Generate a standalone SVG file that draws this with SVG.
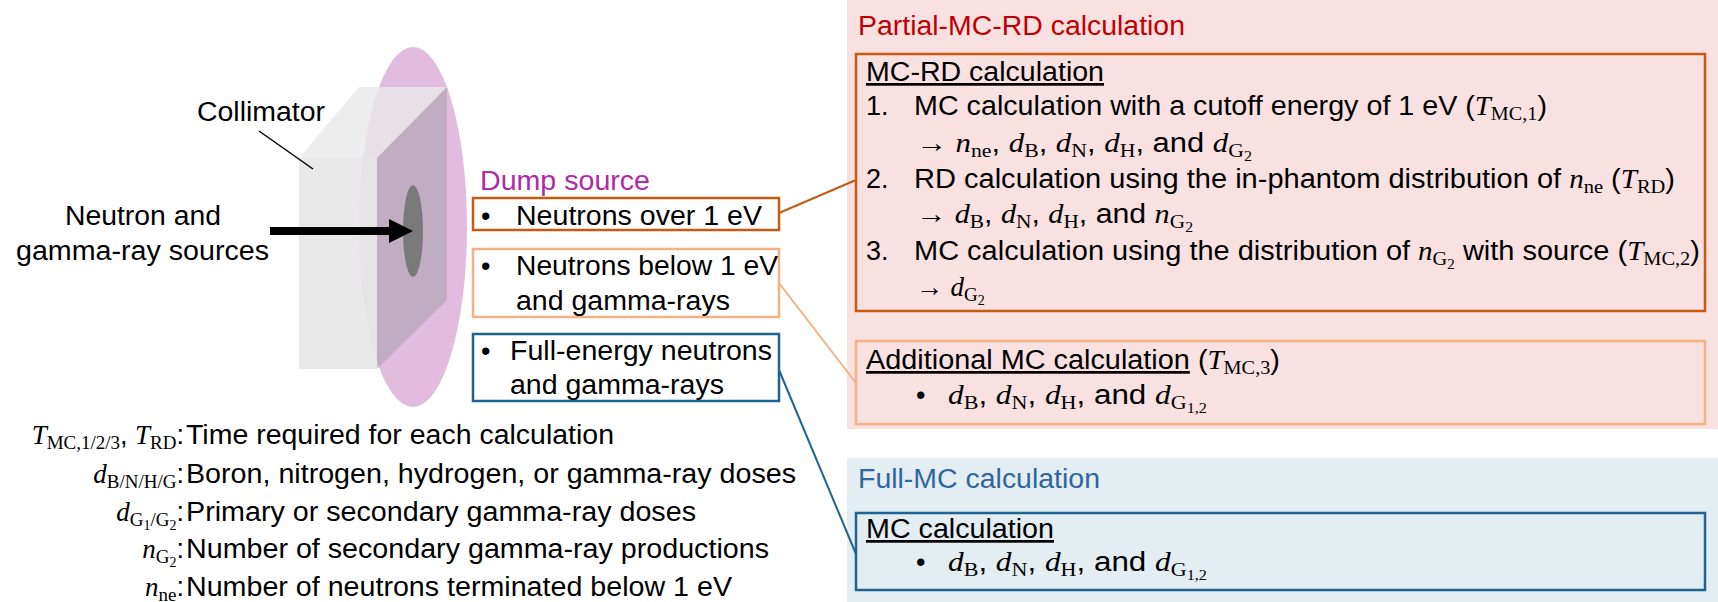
<svg xmlns="http://www.w3.org/2000/svg" width="1718" height="602" viewBox="0 0 1718 602">
<style>
text{font-family:"Liberation Sans",Arial,sans-serif;font-size:27px;fill:#000}
.m{font-family:"Liberation Serif","DejaVu Serif",serif;font-style:italic}
.s{font-family:"Liberation Serif","DejaVu Serif",serif;font-style:normal;font-size:19px}
.ss{font-size:14px}
</style>
<rect x="0" y="0" width="1718" height="602" fill="#fff"/>
<g id="partial-panel">
<rect x="847" y="0" width="871" height="429" fill="#f9e1e2"/>
<text x="858" y="35" textLength="327" lengthAdjust="spacingAndGlyphs" style="fill:#c00000">Partial-MC-RD calculation</text>
</g>
<g id="full-panel">
<rect x="847" y="458" width="871" height="144" fill="#e4edf1"/>
<text x="858" y="488" textLength="242" lengthAdjust="spacingAndGlyphs" style="fill:#2e67a0">Full-MC calculation</text>
</g>
<g id="collimator">
<ellipse cx="413" cy="227" rx="54" ry="180" fill="#e1bcdf"/>
<polygon points="299,158 359,87 447,87 377,158" fill="#e8e8e8" fill-opacity="0.8"/>
<rect x="299" y="158" width="78" height="211" fill="#e6e6e6" fill-opacity="0.92"/>
<polygon points="377,158 447,87 447,300 377,369" fill="#a8a0a8" fill-opacity="0.55"/>
<ellipse cx="413" cy="231" rx="10" ry="46" fill="#7a7a7a"/>
<line x1="270" y1="231" x2="392" y2="231" stroke="#000" stroke-width="8"/>
<polygon points="389,219 413,231 389,243" fill="#000"/>
<text x="197" y="121" textLength="128" lengthAdjust="spacingAndGlyphs">Collimator</text>
<line x1="259" y1="131" x2="313" y2="169" stroke="#000" stroke-width="1.5"/>
<text x="65" y="225" textLength="156" lengthAdjust="spacingAndGlyphs">Neutron and</text>
<text x="16" y="260" textLength="253" lengthAdjust="spacingAndGlyphs">gamma-ray sources</text>
</g>
<g id="dump">
<text x="480" y="190" textLength="170" lengthAdjust="spacingAndGlyphs" style="fill:#b02aa8">Dump source</text>
</g>
<g id="src1"><rect x="473" y="198" width="306" height="32" fill="#fff" stroke="#c55a11" stroke-width="2.5"/>
<text x="481" y="225">•</text><text x="516" y="225" textLength="246" lengthAdjust="spacingAndGlyphs">Neutrons over 1 eV</text></g>
<g id="src2"><rect x="473" y="249" width="306" height="68" fill="#fff" stroke="#f4b183" stroke-width="2.5"/>
<text x="481" y="275">•</text><text x="516" y="275" textLength="262" lengthAdjust="spacingAndGlyphs">Neutrons below 1 eV</text><text x="516" y="310" textLength="214" lengthAdjust="spacingAndGlyphs">and gamma-rays</text></g>
<g id="src3"><rect x="473" y="334" width="306" height="67" fill="#fff" stroke="#1f6391" stroke-width="2.5"/>
<text x="481" y="360">•</text><text x="510" y="360" textLength="262" lengthAdjust="spacingAndGlyphs">Full-energy neutrons</text><text x="510" y="394" textLength="214" lengthAdjust="spacingAndGlyphs">and gamma-rays</text></g>
<g id="mcrd">
<rect x="856" y="54" width="849" height="257" fill="none" stroke="#c55a11" stroke-width="2.5"/>
<text x="866" y="81" textLength="238" lengthAdjust="spacingAndGlyphs" text-decoration="underline">MC-RD calculation</text>
<text x="866" y="115">1.</text>
<text x="914" y="115" textLength="633" lengthAdjust="spacingAndGlyphs">MC calculation with a cutoff energy of 1 eV (<tspan class="m">T</tspan><tspan class="s" dy="5">MC,1</tspan><tspan dy="-5">)</tspan></text>
<text x="916" y="152" textLength="336" lengthAdjust="spacingAndGlyphs">→ <tspan class="m">n</tspan><tspan class="s" dy="5">ne</tspan><tspan dy="-5">, </tspan><tspan class="m">d</tspan><tspan class="s" dy="5">B</tspan><tspan dy="-5">, </tspan><tspan class="m">d</tspan><tspan class="s" dy="5">N</tspan><tspan dy="-5">, </tspan><tspan class="m">d</tspan><tspan class="s" dy="5">H</tspan><tspan dy="-5">, and </tspan><tspan class="m">d</tspan><tspan class="s" dy="5">G</tspan><tspan class="s ss" dy="4">2</tspan></text>
<text x="866" y="188">2.</text>
<text x="914" y="188" textLength="761" lengthAdjust="spacingAndGlyphs">RD calculation using the in-phantom distribution of <tspan class="m">n</tspan><tspan class="s" dy="5">ne</tspan><tspan dy="-5"> (</tspan><tspan class="m">T</tspan><tspan class="s" dy="5">RD</tspan><tspan dy="-5">)</tspan></text>
<text x="916" y="223" textLength="277" lengthAdjust="spacingAndGlyphs">→ <tspan class="m">d</tspan><tspan class="s" dy="5">B</tspan><tspan dy="-5">, </tspan><tspan class="m">d</tspan><tspan class="s" dy="5">N</tspan><tspan dy="-5">, </tspan><tspan class="m">d</tspan><tspan class="s" dy="5">H</tspan><tspan dy="-5">, and </tspan><tspan class="m">n</tspan><tspan class="s" dy="5">G</tspan><tspan class="s ss" dy="4">2</tspan></text>
<text x="866" y="260">3.</text>
<text x="914" y="260" textLength="786" lengthAdjust="spacingAndGlyphs">MC calculation using the distribution of <tspan class="m">n</tspan><tspan class="s" dy="5">G</tspan><tspan class="s ss" dy="4">2</tspan><tspan dy="-9"> with source (</tspan><tspan class="m">T</tspan><tspan class="s" dy="5">MC,2</tspan><tspan dy="-5">)</tspan></text>
<text x="916" y="296">→ <tspan class="m">d</tspan><tspan class="s" dy="5">G</tspan><tspan class="s ss" dy="4">2</tspan></text>
</g>
<g id="addmc">
<rect x="856" y="341" width="849" height="83" fill="none" stroke="#f4b183" stroke-width="2.5"/>
<text x="866" y="369" textLength="414" lengthAdjust="spacingAndGlyphs"><tspan text-decoration="underline">Additional MC calculation</tspan> (<tspan class="m">T</tspan><tspan class="s" dy="5">MC,3</tspan><tspan dy="-5">)</tspan></text>
<text x="916" y="404">•</text>
<text x="948" y="404" textLength="259" lengthAdjust="spacingAndGlyphs"><tspan class="m">d</tspan><tspan class="s" dy="5">B</tspan><tspan dy="-5">, </tspan><tspan class="m">d</tspan><tspan class="s" dy="5">N</tspan><tspan dy="-5">, </tspan><tspan class="m">d</tspan><tspan class="s" dy="5">H</tspan><tspan dy="-5">, and </tspan><tspan class="m">d</tspan><tspan class="s" dy="5">G</tspan><tspan class="s ss" dy="4">1,2</tspan></text>
</g>
<g id="fullmc">
<rect x="856" y="513" width="849" height="77" fill="none" stroke="#1f6391" stroke-width="2.5"/>
<text x="866" y="538" textLength="188" lengthAdjust="spacingAndGlyphs" text-decoration="underline">MC calculation</text>
<text x="916" y="571">•</text>
<text x="948" y="571" textLength="259" lengthAdjust="spacingAndGlyphs"><tspan class="m">d</tspan><tspan class="s" dy="5">B</tspan><tspan dy="-5">, </tspan><tspan class="m">d</tspan><tspan class="s" dy="5">N</tspan><tspan dy="-5">, </tspan><tspan class="m">d</tspan><tspan class="s" dy="5">H</tspan><tspan dy="-5">, and </tspan><tspan class="m">d</tspan><tspan class="s" dy="5">G</tspan><tspan class="s ss" dy="4">1,2</tspan></text>
</g>
<g id="connectors" fill="none" stroke-width="2">
<line x1="779" y1="213" x2="856" y2="180" stroke="#c55a11"/>
<line x1="779" y1="283" x2="856" y2="383" stroke="#f4b183"/>
<line x1="779" y1="370" x2="856" y2="554" stroke="#1f6391"/>
</g>
<g id="legend">
<text x="184" y="444" text-anchor="end"><tspan class="m">T</tspan><tspan class="s" dy="5">MC,1/2/3</tspan><tspan dy="-5">, </tspan><tspan class="m">T</tspan><tspan class="s" dy="5">RD</tspan><tspan dy="-5">:</tspan></text>
<text x="186" y="444" textLength="428" lengthAdjust="spacingAndGlyphs">Time required for each calculation</text>
<text x="184" y="483" text-anchor="end"><tspan class="m">d</tspan><tspan class="s" dy="5">B/N/H/G</tspan><tspan dy="-5">:</tspan></text>
<text x="186" y="483" textLength="610" lengthAdjust="spacingAndGlyphs">Boron, nitrogen, hydrogen, or gamma-ray doses</text>
<text x="184" y="521" text-anchor="end"><tspan class="m">d</tspan><tspan class="s" dy="5">G</tspan><tspan class="s ss" dy="4">1</tspan><tspan class="s" dy="-4">/G</tspan><tspan class="s ss" dy="4">2</tspan><tspan dy="-9">:</tspan></text>
<text x="186" y="521" textLength="510" lengthAdjust="spacingAndGlyphs">Primary or secondary gamma-ray doses</text>
<text x="184" y="558" text-anchor="end"><tspan class="m">n</tspan><tspan class="s" dy="5">G</tspan><tspan class="s ss" dy="4">2</tspan><tspan dy="-9">:</tspan></text>
<text x="186" y="558" textLength="583" lengthAdjust="spacingAndGlyphs">Number of secondary gamma-ray productions</text>
<text x="184" y="596" text-anchor="end"><tspan class="m">n</tspan><tspan class="s" dy="5">ne</tspan><tspan dy="-5">:</tspan></text>
<text x="186" y="596" textLength="546" lengthAdjust="spacingAndGlyphs">Number of neutrons terminated below 1 eV</text>
</g>
</svg>
